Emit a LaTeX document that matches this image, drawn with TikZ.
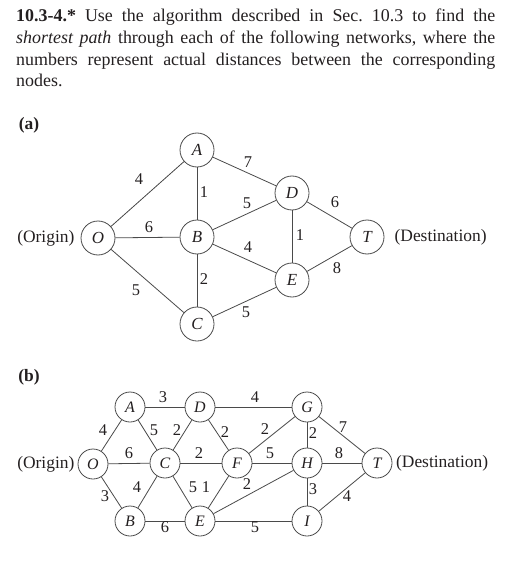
\documentclass[tikz,border=0pt]{standalone}
\usepackage{fontspec}
\setmainfont{Liberation Serif}
\usetikzlibrary{positioning}
\definecolor{linegray}{HTML}{4A4A4A}
\definecolor{inkblack}{HTML}{231F20}

\begin{document}
\begin{tikzpicture}[
    x=1bp, y=-1bp,
    text=inkblack,
    vertex/.style={
        circle,
        draw=linegray,
        line width=0.8bp,
        minimum size=34bp,
        inner sep=0pt,
        font=\fontsize{17}{19}\selectfont\itshape
    },
    svertex/.style={vertex, minimum size=30bp, font=\fontsize{16}{18}\selectfont\itshape},
    link/.style={draw=linegray, line width=0.8bp},
    wt/.style={inner sep=0pt, font=\fontsize{16.5}{18}\selectfont},
    side/.style={inner sep=0pt, font=\fontsize{17.5}{20}\selectfont}
]
\useasboundingbox (0,0) rectangle (506,565);

% problem statement
\node[anchor=north west, text width=479bp, align=justify, inner sep=0pt,
      font=\fontsize{18}{21.8}\selectfont] (intro) at (16,9)
  {\frenchspacing\textbf{10.3-4.*} Use the algorithm described in Sec. 10.3 to find the\linebreak
   \textit{shortest path} through each of the following networks, where the\linebreak
   numbers represent actual distances between the corresponding\linebreak
   nodes.};

% part (a)
\node[side, font=\fontsize{17.5}{20}\selectfont\bfseries] (parta) at (29,125) {(a)};

\node[vertex] (O) at (98,238) {O};
\node[vertex] (A) at (197,150) {A};
\node[vertex] (B) at (197,237) {B};
\node[vertex] (C) at (197,324) {C};
\node[vertex] (D) at (292,193) {D};
\node[vertex] (E) at (292,280) {E};
\node[vertex] (T) at (367,237) {T};

\node[side, left=6bp of O] (orga) {(Origin)};
\node[side, right=10bp of T] (desta) {(Destination)};

\draw[link] (O) -- (A);
\draw[link] (O) -- (B);
\draw[link] (O) -- (C);
\draw[link] (A) -- (B);
\draw[link] (A) -- (D);
\draw[link] (B) -- (C);
\draw[link] (B) -- (D);
\draw[link] (B) -- (E);
\draw[link] (C) -- (E);
\draw[link] (D) -- (E);
\draw[link] (D) -- (T);
\draw[link] (E) -- (T);

\node[wt] at (139,179) {4};
\node[wt] at (149,227) {6};
\node[wt] at (136,290) {5};
\node[wt] at (204,192) {1};
\node[wt] at (248,162) {7};
\node[wt] at (204,279) {2};
\node[wt] at (247,203) {5};
\node[wt] at (248,247) {4};
\node[wt] at (246,312) {5};
\node[wt] at (300,235) {1};
\node[wt] at (335,202) {6};
\node[wt] at (337,268) {8};

% part (b)
\node[side, font=\fontsize{17.5}{20}\selectfont\bfseries] (partb) at (29,377) {(b)};

\node[svertex] (bO) at (93,464) {O};
\node[svertex] (bA) at (130,407) {A};
\node[svertex] (bB) at (130,521) {B};
\node[svertex] (bC) at (165,463) {C};
\node[svertex] (bD) at (200,407) {D};
\node[svertex] (bE) at (200,521) {E};
\node[svertex] (bF) at (237,463) {F};
\node[svertex] (bG) at (307,407) {G};
\node[svertex] (bH) at (307,463) {H};
\node[svertex] (bI) at (307,521) {I};
\node[svertex] (bT) at (377,463) {T};

\node[side, left=3bp of bO] (orgb) {(Origin)};
\node[side, right=3.5bp of bT] (destb) {(Destination)};

\draw[link] (bO) -- (bA);
\draw[link] (bO) -- (bC);
\draw[link] (bO) -- (bB);
\draw[link] (bA) -- (bD);
\draw[link] (bA) -- (bC);
\draw[link] (bB) -- (bC);
\draw[link] (bB) -- (bE);
\draw[link] (bC) -- (bD);
\draw[link] (bC) -- (bF);
\draw[link] (bC) -- (bE);
\draw[link] (bD) -- (bG);
\draw[link] (bD) -- (bF);
\draw[link] (bE) -- (bF);
\draw[link] (bE) -- (bH);
\draw[link] (bE) -- (bI);
\draw[link] (bF) -- (bG);
\draw[link] (bF) -- (bH);
\draw[link] (bG) -- (bH);
\draw[link] (bG) -- (bT);
\draw[link] (bH) -- (bT);
\draw[link] (bH) -- (bI);
\draw[link] (bI) -- (bT);

\node[wt] at (103,430) {4};
\node[wt] at (129,453) {6};
\node[wt] at (105,496) {3};
\node[wt] at (163,397) {3};
\node[wt] at (154,430) {5};
\node[wt] at (137,487) {4};
\node[wt] at (165,527) {6};
\node[wt] at (177,430) {2};
\node[wt] at (199,453) {2};
\node[wt] at (193,487) {5};
\node[wt] at (255,397) {4};
\node[wt] at (225,432) {2};
\node[wt] at (206,487) {1};
\node[wt] at (247,484) {2};
\node[wt] at (255,527) {5};
\node[wt] at (265,429) {2};
\node[wt] at (270,453) {5};
\node[wt] at (313,433) {2};
\node[wt] at (343,427) {7};
\node[wt] at (339,453) {8};
\node[wt] at (313,489) {3};
\node[wt] at (347,496) {4};

\end{tikzpicture}
\end{document}
